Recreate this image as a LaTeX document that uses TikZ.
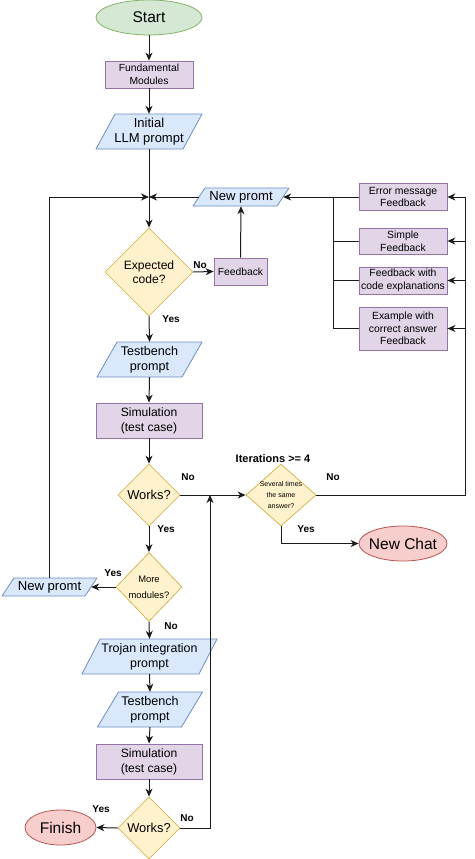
\documentclass[tikz,border=0pt]{standalone}
\usepackage{fontspec}
\setmainfont{Liberation Sans}
\usetikzlibrary{shapes.geometric,arrows.meta}
\definecolor{gfill}{HTML}{D5E8D4}\definecolor{gline}{HTML}{82B366}
\definecolor{pfill}{HTML}{E1D5E7}\definecolor{pline}{HTML}{9673A6}
\definecolor{bfill}{HTML}{DAE8FC}\definecolor{bline}{HTML}{6C8EBF}
\definecolor{yfill}{HTML}{FFF2CC}\definecolor{yline}{HTML}{D6B656}
\definecolor{rfill}{HTML}{F8CECC}\definecolor{rline}{HTML}{B85450}
\definecolor{conn}{HTML}{1A1A1A}
\tikzset{
  fs/.style 2 args={font=\fontsize{#1}{#2}\selectfont},
  proc/.style={rectangle, draw=pline, fill=pfill, line width=0.8pt, inner sep=0pt, align=center},
  iopath/.style={draw=bline, fill=bfill, line width=0.8pt, line join=round},
  iotext/.style={rectangle, draw=none, inner sep=0pt, align=center},
  dec/.style={diamond, draw=yline, fill=yfill, line width=0.8pt, inner sep=0pt},
  term/.style={ellipse, line width=0.8pt, inner sep=0pt},
  lbl/.style={font=\fontsize{10}{12}\selectfont\bfseries},
  line/.style={draw=conn, line width=1pt},
  arr/.style={line, -{Stealth[length=8pt,width=7pt,inset=2.5pt]}},
}
\newcommand\iobox[8]{% name, cx, cy, w, h, dx, font, text
  \path[iopath] (#2-#4/2+#6,#3-#5/2) -- (#2+#4/2,#3-#5/2) -- (#2+#4/2-#6,#3+#5/2) -- (#2-#4/2,#3+#5/2) -- cycle;
  \node[iotext, minimum width=#4-#6, minimum height=#5, #7] (#1) at (#2,#3) {#8};
}
\begin{document}
\begin{tikzpicture}[x=1pt,y=-1pt]
\useasboundingbox (0,0) rectangle (474,859);

% terminals
\node[term, draw=gline, fill=gfill, minimum width=106, minimum height=35] (start) at (149,17.5) {};
\node[fs={15.5}{18}] (startT) at (start) {Start};
\node[term, draw=rline, fill=rfill, minimum width=88, minimum height=35] (newchat) at (403,543.5) {};
\node[fs={15.5}{18}] (newchatT) at (newchat) {New Chat};
\node[term, draw=rline, fill=rfill, minimum width=71, minimum height=35] (finish) at (60.5,827.5) {};
\node[fs={15.5}{18}] (finishT) at (finish) {Finish};

% processes
\node[proc, minimum width=88, minimum height=27, fs={10.3}{12.7}] (fund) at (149,74.5) {Fundamental\\Modules};
\node[proc, minimum width=106, minimum height=35, fs={12.1}{15}] (sim1) at (149,420.5) {Simulation\\(test case)};
\node[proc, minimum width=106, minimum height=35, fs={12.1}{15}] (sim2) at (149,761.5) {Simulation\\(test case)};
\node[proc, minimum width=53, minimum height=27, fs={10.3}{12.5}] (fb) at (240.5,271.5) {Feedback};
\node[proc, minimum width=88, minimum height=27, fs={10.4}{12.7}] (err) at (403,197) {Error message\\Feedback};
\node[proc, minimum width=88, minimum height=26, fs={10.4}{12.7}] (simple) at (403,241) {Simple\\Feedback};
\node[proc, minimum width=88, minimum height=27, fs={10.4}{12.7}] (fbc) at (403,280.5) {Feedback with\\code explanations};
\node[proc, minimum width=88, minimum height=43, fs={10.4}{12.7}] (ex) at (403,328.5) {Example with\\correct answer\\Feedback};

% input/output
\iobox{init}{149}{131.5}{106}{35}{19}{fs={13}{15.6}}{Initial\\LLM prompt}
\iobox{newpA}{241}{197}{96}{18}{12}{fs={13.1}{15.6}}{New promt}
\iobox{tbA}{149.5}{359.5}{105}{35}{20}{fs={12.6}{15.2}}{Testbench\\prompt}
\iobox{newpB}{49.5}{587}{95}{18}{12}{fs={13.1}{15.6}}{New promt}
\iobox{troj}{149.5}{656.5}{135}{35}{18}{fs={12.4}{15.2}}{Trojan integration\\prompt}
\iobox{tbB}{150}{709.5}{105}{35}{21}{fs={12.6}{15.2}}{Testbench\\prompt}

% decisions
\node[dec, minimum width=88, minimum height=88] (exp) at (149,272) {};
\node[fs={12.1}{14.3}, align=center] (expT) at (exp) {Expected\\code?};
\node[dec, minimum width=62, minimum height=62] (wA) at (149,495) {};
\node[fs={12.9}{15}] (wAT) at (wA) {Works?};
\node[dec, minimum width=70, minimum height=62] (sev) at (281,495) {};
\node[fs={7}{11.2}, align=center] (sevT) at (sev) {Several times\\the same\\answer?};
\node[dec, minimum width=66, minimum height=69] (more) at (149,587) {};
\node[fs={9.4}{15.7}, align=center] (moreT) at (more) {More\\modules?};
\node[dec, minimum width=62, minimum height=62] (wB) at (149,828) {};
\node[fs={12.9}{15}] (wBT) at (wB) {Works?};

% helper coordinates
\coordinate (merge) at (149,197);
\coordinate (busL) at (333,197);
\coordinate (rbx) at (465,495);
\coordinate (jn) at (210,495);

% connectors
\draw[arr] (start) -- (fund);
\draw[arr] (fund) -- (init);
\draw[arr] (init.south) -- (exp.north);
\draw[arr] (newpA.west) -- (merge);
\draw[arr] (newpB.north) |- (merge);
\draw[arr] (exp.east) -- (fb.west);
\draw[arr] (fb.north) -- (newpA.south);
\draw[arr] (err.west) -- (newpA.east);
\draw[line] (busL) |- (ex.west);
\draw[line] (simple.west) -- (simple.west -| busL);
\draw[line] (fbc.west) -- (fbc.west -| busL);
\draw[arr] (sev.east) -| (rbx |- err.east) -- (err.east);
\draw[arr] (simple.east -| rbx) -- (simple.east);
\draw[arr] (fbc.east -| rbx) -- (fbc.east);
\draw[arr] (ex.east -| rbx) -- (ex.east);
\draw[arr] (exp.south) -- (tbA.north);
\draw[arr] (tbA.south) -- (sim1.north);
\draw[arr] (sim1.south) -- (wA.north);
\draw[arr] (wA.east) -- (sev.west);
\draw[arr] (sev.south) |- (newchat.west);
\draw[arr] (wA.south) -- (more.north);
\draw[arr] (more.west) -- (newpB.east);
\draw[arr] (more.south) -- (troj.north);
\draw[arr] (troj.south) -- (tbB.north);
\draw[arr] (tbB.south) -- (sim2.north);
\draw[arr] (sim2.south) -- (wB.north);
\draw[arr] (wB.west) -- (finish.east);
\draw[arr] (wB.east) -| (jn);

% labels
\node[lbl] (l1) at (200,265) {No};
\node[lbl] (l2) at (171,319) {Yes};
\node[lbl] (l3) at (188,477) {No};
\node[lbl] (l4) at (166,529) {Yes};
\node[font=\fontsize{11}{13}\selectfont\bfseries] (l5) at (273,459) {Iterations >= 4};
\node[lbl] (l6) at (333,477) {No};
\node[lbl] (l7) at (306,529) {Yes};
\node[lbl] (l8) at (113,573) {Yes};
\node[lbl] (l9) at (171,626) {No};
\node[lbl] (l10) at (101,809) {Yes};
\node[lbl] (l11) at (187,818) {No};
\end{tikzpicture}
\end{document}
